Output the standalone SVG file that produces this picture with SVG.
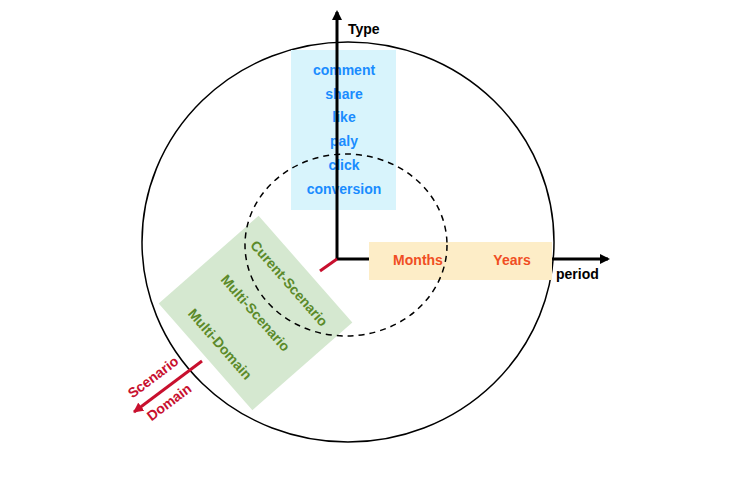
<svg xmlns="http://www.w3.org/2000/svg" width="732" height="482" viewBox="0 0 732 482">
<defs>
<marker id="ah" markerWidth="10" markerHeight="10" refX="8" refY="5" orient="auto" markerUnits="userSpaceOnUse"><path d="M0,0 L10,5 L0,10 z" fill="#000"/></marker>
<marker id="ahr" markerWidth="12" markerHeight="10" refX="9" refY="5" orient="auto" markerUnits="userSpaceOnUse"><path d="M0,0 L10,5 L0,10 z" fill="#c8102e"/></marker>
</defs>
<style>
text{font-family:"Liberation Sans",Arial,sans-serif;font-weight:bold;font-size:14px}
.b{fill:#1a8cff;text-anchor:middle}
.o{fill:#f04e23;text-anchor:middle}
.g{fill:#5b8a2a;text-anchor:middle}
.r{fill:#c8102e;text-anchor:middle}
.k{fill:#000}
</style>
<rect width="732" height="482" fill="#fff"/>
<g id="outer"><ellipse cx="348" cy="242" rx="206" ry="200" fill="none" stroke="#000" stroke-width="1.5"/></g>
<g id="type-box">
<rect x="291" y="50" width="105" height="160" fill="#d8f4fc"/>
<text class="b" x="344" y="75">comment</text>
<text class="b" x="344" y="99">share</text>
<text class="b" x="344" y="122">like</text>
<text class="b" x="344" y="146">paly</text>
<text class="b" x="344" y="170">click</text>
<text class="b" x="344" y="194">conversion</text>
</g>
<g id="period-box">
<rect x="369" y="242" width="183" height="38" fill="#fdedc7"/>
<text class="o" x="418" y="265">Months</text>
<text class="o" x="512" y="265">Years</text>
</g>
<g id="scenario-box">
<g transform="translate(255.5,313) rotate(48.7)">
<rect x="-71" y="-66.5" width="142" height="133" fill="#d5e8d0"/>
<text class="g" x="0" y="-40">Curent-Scenario</text>
<text class="g" x="0" y="5">Multi-Scenario</text>
<text class="g" x="0" y="52">Multi-Domain</text>
</g>
</g>
<g id="connectors">
<line x1="337" y1="259" x2="337" y2="12" stroke="#000" stroke-width="3" marker-end="url(#ah)"/>
<line x1="337" y1="259" x2="369" y2="259" stroke="#000" stroke-width="3"/>
<line x1="552" y1="259" x2="608" y2="259" stroke="#000" stroke-width="3" marker-end="url(#ah)"/>
<line x1="337" y1="259" x2="320" y2="271" stroke="#c8102e" stroke-width="3"/>
<line x1="202" y1="361" x2="134" y2="412" stroke="#c8102e" stroke-width="3" marker-end="url(#ahr)"/>
<line x1="210" y1="236" x2="210" y2="236" stroke="none"/>
</g>
<g id="inner"><ellipse cx="346" cy="245" rx="101" ry="91" fill="none" stroke="#000" stroke-width="1.5" stroke-dasharray="6,5"/></g>
<g id="labels">
<text class="k" x="348" y="34">Type</text>
<text class="k" x="556" y="279">period</text>
<text class="r" transform="translate(156,381) rotate(-37)">Scenario</text>
<text class="r" transform="translate(172,406) rotate(-37)">Domain</text>
</g>
</svg>
